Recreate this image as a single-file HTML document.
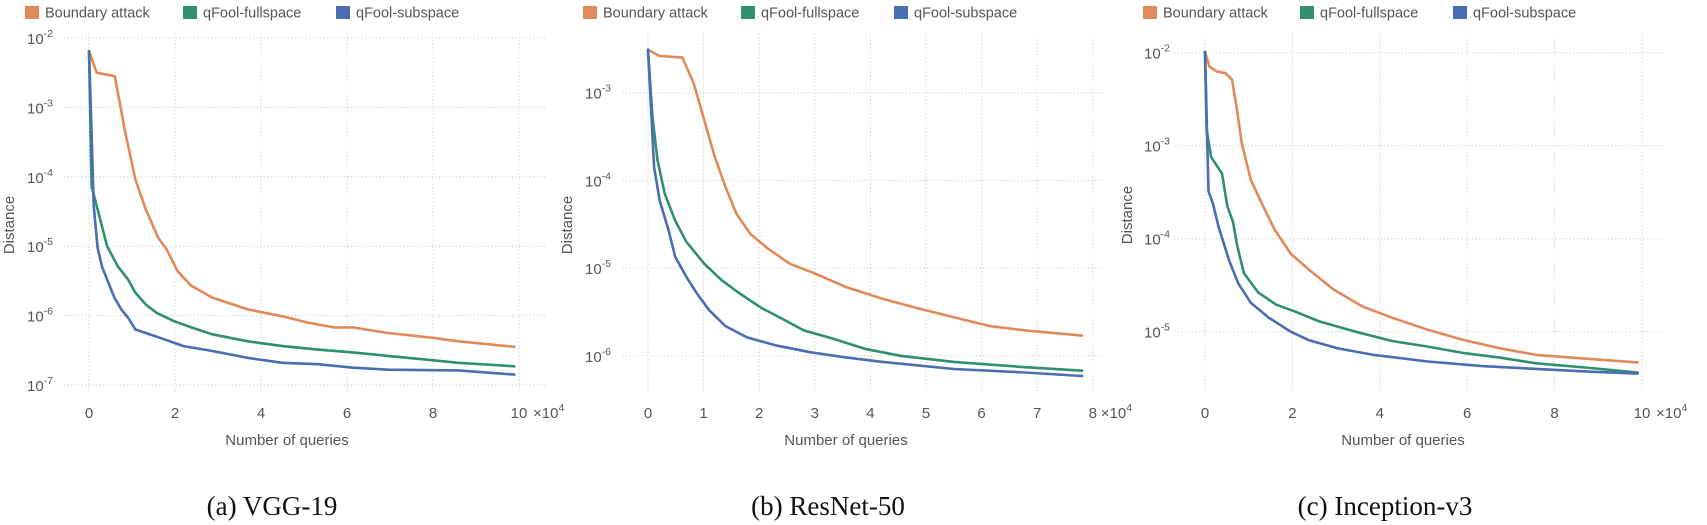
<!DOCTYPE html>
<html><head><meta charset="utf-8">
<style>
html,body{margin:0;padding:0;background:#fff;}
svg{display:block;}
.tick{font-family:"Liberation Sans",sans-serif;font-size:15px;fill:#555;}
.axt{font-family:"Liberation Sans",sans-serif;font-size:15px;fill:#555;}
.leg{font-family:"Liberation Sans",sans-serif;font-size:14.5px;fill:#555;}
.cap{font-family:"Liberation Serif",serif;font-size:27px;fill:#111;}
.grid{stroke:#d4d4d4;stroke-width:1;stroke-dasharray:1.5 2;}
</style></head>
<body>
<svg id="fig" width="1707" height="525" viewBox="0 0 1707 525" xmlns="http://www.w3.org/2000/svg"></svg>
<script>
// ---------- Data (x in units of 1e4 queries, y as log10 distance) ----------
const c1BoundaryX = [0,0.18,0.6,0.83,1.08,1.32,1.61,1.81,2.06,2.38,2.87,3.69,4.5,5.08,5.69,6.14,6.95,8.0,8.59,9.89];
const c1BoundaryY = [-2.19,-2.5,-2.55,-3.32,-4.04,-4.47,-4.88,-5.05,-5.36,-5.57,-5.74,-5.91,-6.01,-6.1,-6.17,-6.17,-6.25,-6.32,-6.37,-6.45];
const c1FullX = [0,0.06,0.18,0.42,0.67,0.91,1.08,1.32,1.57,1.98,2.38,2.87,3.69,4.5,5.32,6.14,6.95,7.77,8.59,9.89];
const c1FullY = [-2.19,-4.14,-4.42,-5.0,-5.29,-5.48,-5.67,-5.84,-5.96,-6.08,-6.17,-6.27,-6.37,-6.44,-6.49,-6.53,-6.58,-6.63,-6.68,-6.73];
const c1SubX = [0,0.06,0.11,0.2,0.3,0.42,0.59,0.75,0.91,1.08,1.32,1.65,2.2,2.87,3.69,4.5,5.32,6.14,6.95,8.59,9.89];
const c1SubY = [-2.19,-3.37,-4.42,-5.02,-5.29,-5.48,-5.74,-5.91,-6.03,-6.2,-6.25,-6.32,-6.44,-6.51,-6.61,-6.68,-6.7,-6.75,-6.78,-6.79,-6.85];
const c1XTicks = [0,2,4,6,8,10];
const c1YTicks = [-2,-3,-4,-5,-6,-7];

const c2BoundaryX = [0,0.2,0.62,0.82,1.01,1.2,1.39,1.59,1.84,2.16,2.55,3.0,3.58,4.22,4.86,5.5,6.14,6.78,7.81];
const c2BoundaryY = [-2.51,-2.58,-2.6,-2.89,-3.31,-3.73,-4.07,-4.38,-4.61,-4.78,-4.95,-5.06,-5.22,-5.35,-5.46,-5.56,-5.66,-5.71,-5.77];
const c2FullX = [0,0.08,0.17,0.3,0.49,0.69,1.01,1.33,1.65,2.03,2.42,2.8,3.25,3.9,4.54,5.5,6.78,7.81];
const c2FullY = [-2.51,-3.27,-3.77,-4.15,-4.46,-4.7,-4.95,-5.14,-5.29,-5.45,-5.58,-5.71,-5.79,-5.92,-6.0,-6.07,-6.13,-6.17];
const c2SubX = [0,0.11,0.21,0.37,0.49,0.69,0.88,1.1,1.39,1.78,2.29,2.93,3.58,4.22,4.86,5.5,6.78,7.81];
const c2SubY = [-2.51,-3.85,-4.23,-4.57,-4.87,-5.1,-5.29,-5.48,-5.66,-5.79,-5.88,-5.96,-6.02,-6.07,-6.11,-6.15,-6.19,-6.23];
const c2XTicks = [0,1,2,3,4,5,6,7,8];
const c2YTicks = [-3,-4,-5,-6];

const c3BoundaryX = [0,0.1,0.26,0.47,0.62,0.72,0.84,1.05,1.3,1.59,1.96,2.37,2.95,3.61,4.28,5.1,5.93,6.76,7.58,8.41,9.9];
const c3BoundaryY = [-1.99,-2.15,-2.2,-2.22,-2.29,-2.58,-2.97,-3.37,-3.62,-3.9,-4.16,-4.33,-4.55,-4.73,-4.85,-4.98,-5.09,-5.18,-5.25,-5.28,-5.33];
const c3FullX = [0,0.04,0.14,0.39,0.51,0.64,0.74,0.89,1.22,1.63,2.04,2.62,3.45,4.28,5.1,5.93,6.76,7.58,8.82,9.9];
const c3FullY = [-1.99,-2.83,-3.12,-3.3,-3.65,-3.82,-4.08,-4.37,-4.58,-4.71,-4.78,-4.89,-5.0,-5.1,-5.16,-5.23,-5.28,-5.34,-5.39,-5.44];
const c3SubX = [0,0.08,0.18,0.31,0.55,0.76,1.05,1.46,1.96,2.37,3.04,3.86,5.1,6.34,7.58,8.82,9.9];
const c3SubY = [-1.99,-3.49,-3.62,-3.87,-4.23,-4.48,-4.69,-4.85,-5.0,-5.09,-5.18,-5.25,-5.32,-5.37,-5.4,-5.43,-5.45];
const c3XTicks = [0,2,4,6,8,10];
const c3YTicks = [-2,-3,-4,-5];

const seriesNames = ["Boundary attack","qFool-fullspace","qFool-subspace"];
const seriesKeys = ["boundary-attack","qfool-fullspace","qfool-subspace"];
const colors = ["#e0895a","#2f8f70","#4a6db3"];

const NS = "http://www.w3.org/2000/svg";
const svg = document.getElementById("fig");
function mk(tag, attrs, parent){
  const e = document.createElementNS(NS, tag);
  for (const k in attrs) e.setAttribute(k, attrs[k]);
  (parent||svg).appendChild(e);
  return e;
}

const charts = [
  {id:"vgg19", x0:89, pxPer:43, yTop:38, topLog:-2, dec:69.4, gL:64, gR:545, gT:33, gB:393,
   xt:c1XTicks, yt:c1YTicks, tickX:27, distX:10, distY:225, qx:287, cap:"(a) VGG-19", capX:272,
   legX:[25,183,336],
   s:[[c1BoundaryX,c1BoundaryY],[c1FullX,c1FullY],[c1SubX,c1SubY]]},
  {id:"resnet50", x0:648, pxPer:55.6, yTop:92.7, topLog:-3, dec:87.7, gL:622, gR:1105, gT:33, gB:393,
   xt:c2XTicks, yt:c2YTicks, tickX:585, distX:568, distY:225, qx:846, cap:"(b) ResNet-50", capX:828,
   legX:[583,741,894],
   s:[[c2BoundaryX,c2BoundaryY],[c2FullX,c2FullY],[c2SubX,c2SubY]]},
  {id:"inception-v3", x0:1205, pxPer:43.7, yTop:52.7, topLog:-2, dec:93, gL:1174, gR:1663, gT:33, gB:393,
   xt:c3XTicks, yt:c3YTicks, tickX:1144, distX:1128, distY:215, qx:1403, cap:"(c) Inception-v3", capX:1385,
   legX:[1143,1300,1453],
   s:[[c3BoundaryX,c3BoundaryY],[c3FullX,c3FullY],[c3SubX,c3SubY]]}
];

charts.forEach(c => {
  const xs = v => c.x0 + v*c.pxPer;
  const ys = l => c.yTop + (c.topLog - l)*c.dec;
  const g = mk("g", {});
  
  

  // horizontal grid + y ticks
  c.yt.forEach(l => {
    const y = ys(l);
    const ln = mk("line", {x1:c.gL, x2:c.gR, y1:y, y2:y, class:"grid"}, g);
    
    
    const t = mk("text", {x:c.tickX, y:y+6, class:"tick"}, g);
    
    
    t.textContent = "10";
    const sup = mk("tspan", {dy:-7, "font-size":"10.5px"}, t);
    sup.textContent = String(l);
  });
  // vertical grid + x ticks
  c.xt.forEach((v,i) => {
    const x = xs(v);
    const ln = mk("line", {x1:x, x2:x, y1:c.gT, y2:c.gB, class:"grid"}, g);
    
    
    const t = mk("text", {x:x, y:418, "text-anchor":"middle", class:"tick"}, g);
    
    
    t.textContent = String(v);
    if (i === c.xt.length-1) {
      const m = mk("text", {x:x + (v>=10?14:8), y:418, class:"tick"}, g);
      
      
      m.textContent = "\u00d710";
      const sp = mk("tspan", {dy:-7, "font-size":"10.5px"}, m);
      sp.textContent = "4";
    }
  });
  // series
  c.s.forEach((sr,k) => {
    const pts = sr[0].map((xv,i) => xs(xv).toFixed(1)+","+ys(sr[1][i]).toFixed(1)).join(" ");
    const pl = mk("polyline", {points:pts, fill:"none", stroke:colors[k], "stroke-width":2.6, "stroke-linejoin":"round", "stroke-linecap":"round"}, g);
    
    
  });
  // axis titles
  const d = mk("text", {x:c.distX, y:c.distY, transform:`rotate(-90 ${c.distX} ${c.distY})`, "text-anchor":"middle", "dominant-baseline":"middle", class:"axt"}, g);
  
  
  d.textContent = "Distance";
  const q = mk("text", {x:c.qx, y:445, "text-anchor":"middle", class:"axt"}, g);
  
  
  q.textContent = "Number of queries";
  const cp = mk("text", {x:c.capX, y:515, "text-anchor":"middle", class:"cap"}, g);
  
  
  cp.textContent = c.cap;
  // legend
  c.legX.forEach((lx,k) => {
    const r = mk("rect", {x:lx, y:6, width:14, height:13, fill:colors[k]}, g);
    
    
    const t = mk("text", {x:lx+20, y:17.5, class:"leg"}, g);
    
    
    t.textContent = seriesNames[k];
  });
});
</script>
</body></html>
